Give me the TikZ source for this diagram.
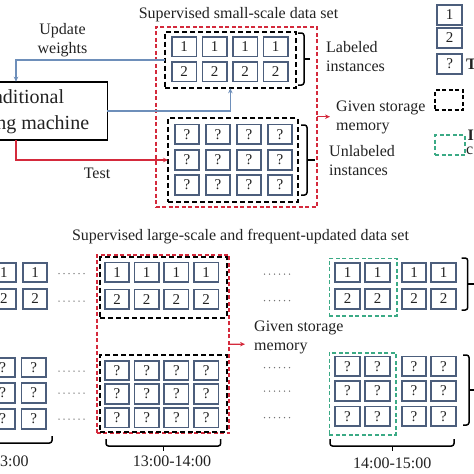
\documentclass[tikz,border=0pt]{standalone}
\usepackage{fontspec}
\setmainfont{Liberation Serif}
\usetikzlibrary{arrows.meta}
\definecolor{cellc}{HTML}{4C5E7C}
\definecolor{redc}{HTML}{D42A3C}
\definecolor{bluec}{HTML}{6E8FBA}
\definecolor{greenc}{HTML}{3BAA85}
\definecolor{txtc}{HTML}{222222}
\newcommand\myrect[6]{%
 \pgfmathsetmacro\myrcx{(#3+#5)/2}\pgfmathsetmacro\myrcy{(#4+#6)/2}%
 \pgfmathsetmacro\myrw{#5-#3}\pgfmathsetmacro\myrh{#6-#4}%
 \node[#2, minimum width=\myrw pt, minimum height=\myrh pt, inner sep=0pt, outer sep=0pt] (#1) at (\myrcx,\myrcy) {};}
% right brace: x, y1, y2, tip length
\newcommand\myrbrace[4]{%
 \pgfmathsetmacro\mybm{(#2+#3)/2}%
 \draw[bracec] (#1,#2) -- (#1+6,#2) -- (#1+6,#3) -- (#1,#3);
 \draw[bracec] (#1+6,\mybm) -- (#1+6+#4,\mybm);}
% bottom brace: x1, x2, y, tipx
\newcommand\mybbrace[4]{%
 \draw[bracec] (#1,#3-7) -- (#1,#3) -- (#2,#3) -- (#2,#3-7);
 \draw[bracec] (#4,#3) -- (#4,#3+5);}
% row of six dots centred at x,y
\newcommand\mydots[2]{%
 \foreach \d in {0,...,5}{\fill[black!55] ({#1-12.5+5*\d},#2) circle (0.75pt);}}
\begin{document}
\begin{tikzpicture}[x=1pt,y=-1pt,
  txt/.style={text=txtc, font=\fontsize{16}{19}\selectfont, inner sep=0pt},
  cell/.style={draw=cellc, line width=1.6pt, fill=white, minimum width=24.5pt, minimum height=19.5pt, inner sep=0pt, text=txtc, font=\fontsize{15}{15}\selectfont},
  blkbox/.style={draw=black, line width=1.8pt, dash pattern=on 5pt off 3pt},
  redbox/.style={draw=redc, line width=1.7pt, dash pattern=on 4pt off 2.5pt},
  grnbox/.style={draw=greenc, line width=1.6pt, dash pattern=on 4pt off 2.5pt},
  bracec/.style={draw=black, line width=1.5pt, rounded corners=2.5pt},
  bluearr/.style={draw=bluec, line width=1.4pt, -{Stealth[length=5pt,width=4.5pt]}},
  redarr/.style={draw=redc, line width=1.4pt, -{Stealth[length=5pt,width=4.5pt]}}]
\useasboundingbox (0,0) rectangle (474,474);
\clip (0,0) rectangle (474,474);

% ---------------- top part ----------------
\node[txt] (t1) at (238.5,15) {Supervised small-scale data set};
\myrect{redtop}{redbox}{155.7}{26.7}{317}{206.7}
\myrect{lab}{blkbox}{165}{31.7}{295.7}{88.3}
\myrect{unl}{blkbox}{168}{118.3}{298}{201.7}
\foreach \i in {0,...,3}{
  \node[cell] (ta1-\i) at ({184.2+30.5*\i},46.7) {1};
  \node[cell] (ta2-\i) at ({184.2+30.5*\i},71.7) {2};
  \node[cell] (tq1-\i) at ({187+31*\i},134.2) {?};
  \node[cell] (tq2-\i) at ({187+31*\i},160) {?};
  \node[cell] (tq3-\i) at ({187+31*\i},185) {?};
}
\myrbrace{298}{33}{85}{6}
\myrbrace{301}{125}{195}{8}
\node[txt, align=left, anchor=west] (labtxt) at (326,57) {Labeled\\instances};
\node[txt, align=left, anchor=west] (unltxt) at (329,160.5) {Unlabeled\\instances};
\node[txt, align=left, anchor=west] (gsm1) at (336,117.5) {Given storage\\memory};
\coordinate (gsa1) at (330,116.7);
\draw[redarr, line width=1.2pt] (redtop.east) -- (gsa1);

% machine
\myrect{m}{draw=black, line width=1.6pt}{-67}{81.7}{107.3}{140}
\node[text=txtc, font=\fontsize{20}{26}\selectfont, align=center] (mtxt) at (20,111.5) {Traditional\\learning machine};
\coordinate (mtop) at (16,81.7);
\coordinate (mbot) at (16,140);
\draw[bluearr] (lab.west) -| (mtop);
\draw[bluearr] (m.east) -| (lab.south);
\draw[redarr] (mbot) |- (unl.west);
\node[txt, align=center] (uw) at (62.5,40.5) {Update\\weights};
\node[txt] (test) at (97,173) {Test};

% legend
\node[cell, minimum width=25pt] (lg1) at (449.7,15) {1};
\node[cell, minimum width=25pt] (lg2) at (449.7,38) {2};
\node[cell, minimum width=25pt] (lg3) at (449.7,64) {?};
\node[txt, anchor=west, font=\bfseries\fontsize{16}{19}\selectfont] (lgt) at (466,64) {T};
\myrect{lgb}{blkbox, line width=1.6pt, dash pattern=on 4pt off 2.5pt}{435}{90}{463}{110}
\myrect{lgg}{grnbox}{435}{135}{465}{155}
\node[txt, anchor=west, font=\bfseries\fontsize{16}{19}\selectfont] (lgi) at (467.5,135) {I};
\node[txt, anchor=west] (lgc) at (466,151) {c};

% ---------------- bottom part ----------------
\node[txt] (t2) at (240.5,236.7) {Supervised large-scale and frequent-updated data set};

% left partial group
\foreach \x in {4,35}{
  \node[cell] at (\x,272.5) {1};
  \node[cell] at (\x,299) {2};
}
\foreach \x in {2.7,33.7}{
  \node[cell] at (\x,367.5) {?};
  \node[cell] at (\x,393) {?};
  \node[cell] at (\x,419) {?};
}
\mybbrace{-70}{52}{443}{-9}
\node[txt] (tm0) at (-10.5,461.7) {12:00-13:00};
\foreach \y in {273.5,301,371,393,419}{ \mydots{71.5}{\y} }

% middle group
\myrect{redmid}{redbox}{96.7}{255}{229.3}{433.3}
\myrect{labm}{blkbox}{100}{257.3}{226.7}{317.7}
\myrect{unlm}{blkbox}{100}{355}{226.7}{431.7}
\foreach \i in {0,...,3}{
  \node[cell] (ma1-\i) at ({117+29.7*\i},272.3) {1};
  \node[cell] (ma2-\i) at ({117+29.7*\i},299.2) {2};
  \node[cell] (mq1-\i) at ({117+29.7*\i},370.5) {?};
  \node[cell] (mq2-\i) at ({117+29.7*\i},394) {?};
  \node[cell] (mq3-\i) at ({117+29.7*\i},417.8) {?};
}
\mybbrace{106}{220.7}{446}{163.3}
\node[txt] (tm1) at (172,461.7) {13:00-14:00};
\coordinate (gsa2) at (245,344.2);
\draw[redarr, line width=1.2pt] (redmid.east) -- (gsa2);
\node[txt, align=left, anchor=west] (gsm2) at (254,337.5) {Given storage\\memory};
\foreach \y in {274,300.5,367.5,391,417.5}{ \mydots{277}{\y} }

% right group
\myrect{grn1}{grnbox}{329.3}{258.3}{396.7}{316}
\myrect{grn2}{grnbox}{329.3}{352.7}{395.7}{435}
\foreach \x [count=\k] in {347.5,377.5,414,443.5}{
  \node[cell] (ra1-\k) at (\x,272.5) {1};
  \node[cell] (ra2-\k) at (\x,299) {2};
  \node[cell] (rq1-\k) at (\x,366.3) {?};
  \node[cell] (rq2-\k) at (\x,391) {?};
  \node[cell] (rq3-\k) at (\x,416.3) {?};
}
\myrbrace{461.7}{258}{310}{10}
\myrbrace{463}{355}{425}{10}
\mybbrace{330}{454}{446}{392.3}
\node[txt] (tm2) at (392.3,463.3) {14:00-15:00};
\end{tikzpicture}
\end{document}
